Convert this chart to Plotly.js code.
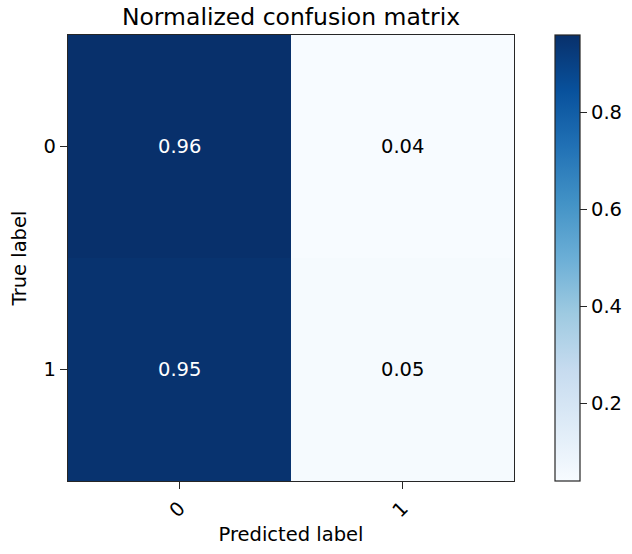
<!DOCTYPE html>
<html>
<head>
<meta charset="utf-8">
<script src="https://cdn.plot.ly/plotly-3.0.1.min.js"></script>
<style>html,body{margin:0;padding:0;background:#fff;}#chart{width:632px;height:554px;}</style>
</head>
<body>
<div id="chart"></div>
<script>
const classes = ['0', '1'];
const classIdx = [0, 1];
const matrix = [
  [0.96, 0.04],
  [0.95, 0.05]
];
const title = 'Normalized confusion matrix';
const xLabel = 'Predicted label';
const yLabel = 'True label';

const blues = [
  [0.0, '#f7fbff'], [0.125, '#deebf7'], [0.25, '#c6dbef'], [0.375, '#9ecae1'],
  [0.5, '#6baed6'], [0.625, '#4292c6'], [0.75, '#2171b5'], [0.875, '#08519c'], [1.0, '#08306b']
];

const flat = matrix.flat();
const zmin = Math.min(...flat), zmax = Math.max(...flat);
const thresh = (zmin + zmax) / 2;
const FS = 19.5;

const annotations = [];
matrix.forEach((row, i) => row.forEach((v, j) => {
  annotations.push({
    x: classIdx[j], y: classIdx[i], xref: 'x', yref: 'y',
    text: v.toFixed(2), showarrow: false,
    font: {family: 'DejaVu Sans', size: FS, color: v > thresh ? '#ffffff' : '#000000'}
  });
}));

const axisCommon = {
  showline: true, mirror: true, linecolor: '#262626', linewidth: 1.2,
  ticks: 'outside', ticklen: 7, tickwidth: 1.2, tickcolor: '#262626',
  showgrid: false, zeroline: false,
  tickfont: {family: 'DejaVu Sans', size: FS, color: '#000'}
};

const data = [{
  type: 'heatmap', x: classIdx, y: classIdx, z: matrix,
  colorscale: blues, zmin: zmin, zmax: zmax,
  hoverinfo: 'none',
  colorbar: {
    x: 1.092, xanchor: 'left', y: 0.5, yanchor: 'middle',
    len: 1, lenmode: 'fraction', thickness: 25, thicknessmode: 'pixels',
    outlinewidth: 1.2, outlinecolor: '#262626',
    ticks: 'outside', ticklen: 7, tickwidth: 1.2, tickcolor: '#262626',
    tick0: 0.2, dtick: 0.2, xpad: 0, ypad: 0,
    tickfont: {family: 'DejaVu Sans', size: FS, color: '#000'}
  }
}];

const layout = {
  width: 632, height: 554,
  margin: {l: 68, r: 118, t: 35, b: 73, autoexpand: false},
  paper_bgcolor: '#fff', plot_bgcolor: '#fff',
  title: {text: title, x: 0.5, xref: 'paper', xanchor: 'center', y: 1, yref: 'paper', yanchor: 'bottom', pad: {b: 10},
    font: {family: 'DejaVu Sans', size: 23.5, color: '#000'}},
  xaxis: Object.assign({}, axisCommon, {
    range: [-0.5, 1.5], tickvals: classIdx, ticktext: classes, tickangle: -45,
    title: {text: xLabel, standoff: 6, font: {family: 'DejaVu Sans', size: FS, color: '#000'}}
  }),
  yaxis: Object.assign({}, axisCommon, {
    range: [1.5, -0.5], tickvals: classIdx, ticktext: classes,
    title: {text: yLabel, standoff: 11, font: {family: 'DejaVu Sans', size: FS, color: '#000'}}
  }),
  annotations: annotations
};

Plotly.newPlot('chart', data, layout, {displayModeBar: false, staticPlot: true});
</script>
</body>
</html>
